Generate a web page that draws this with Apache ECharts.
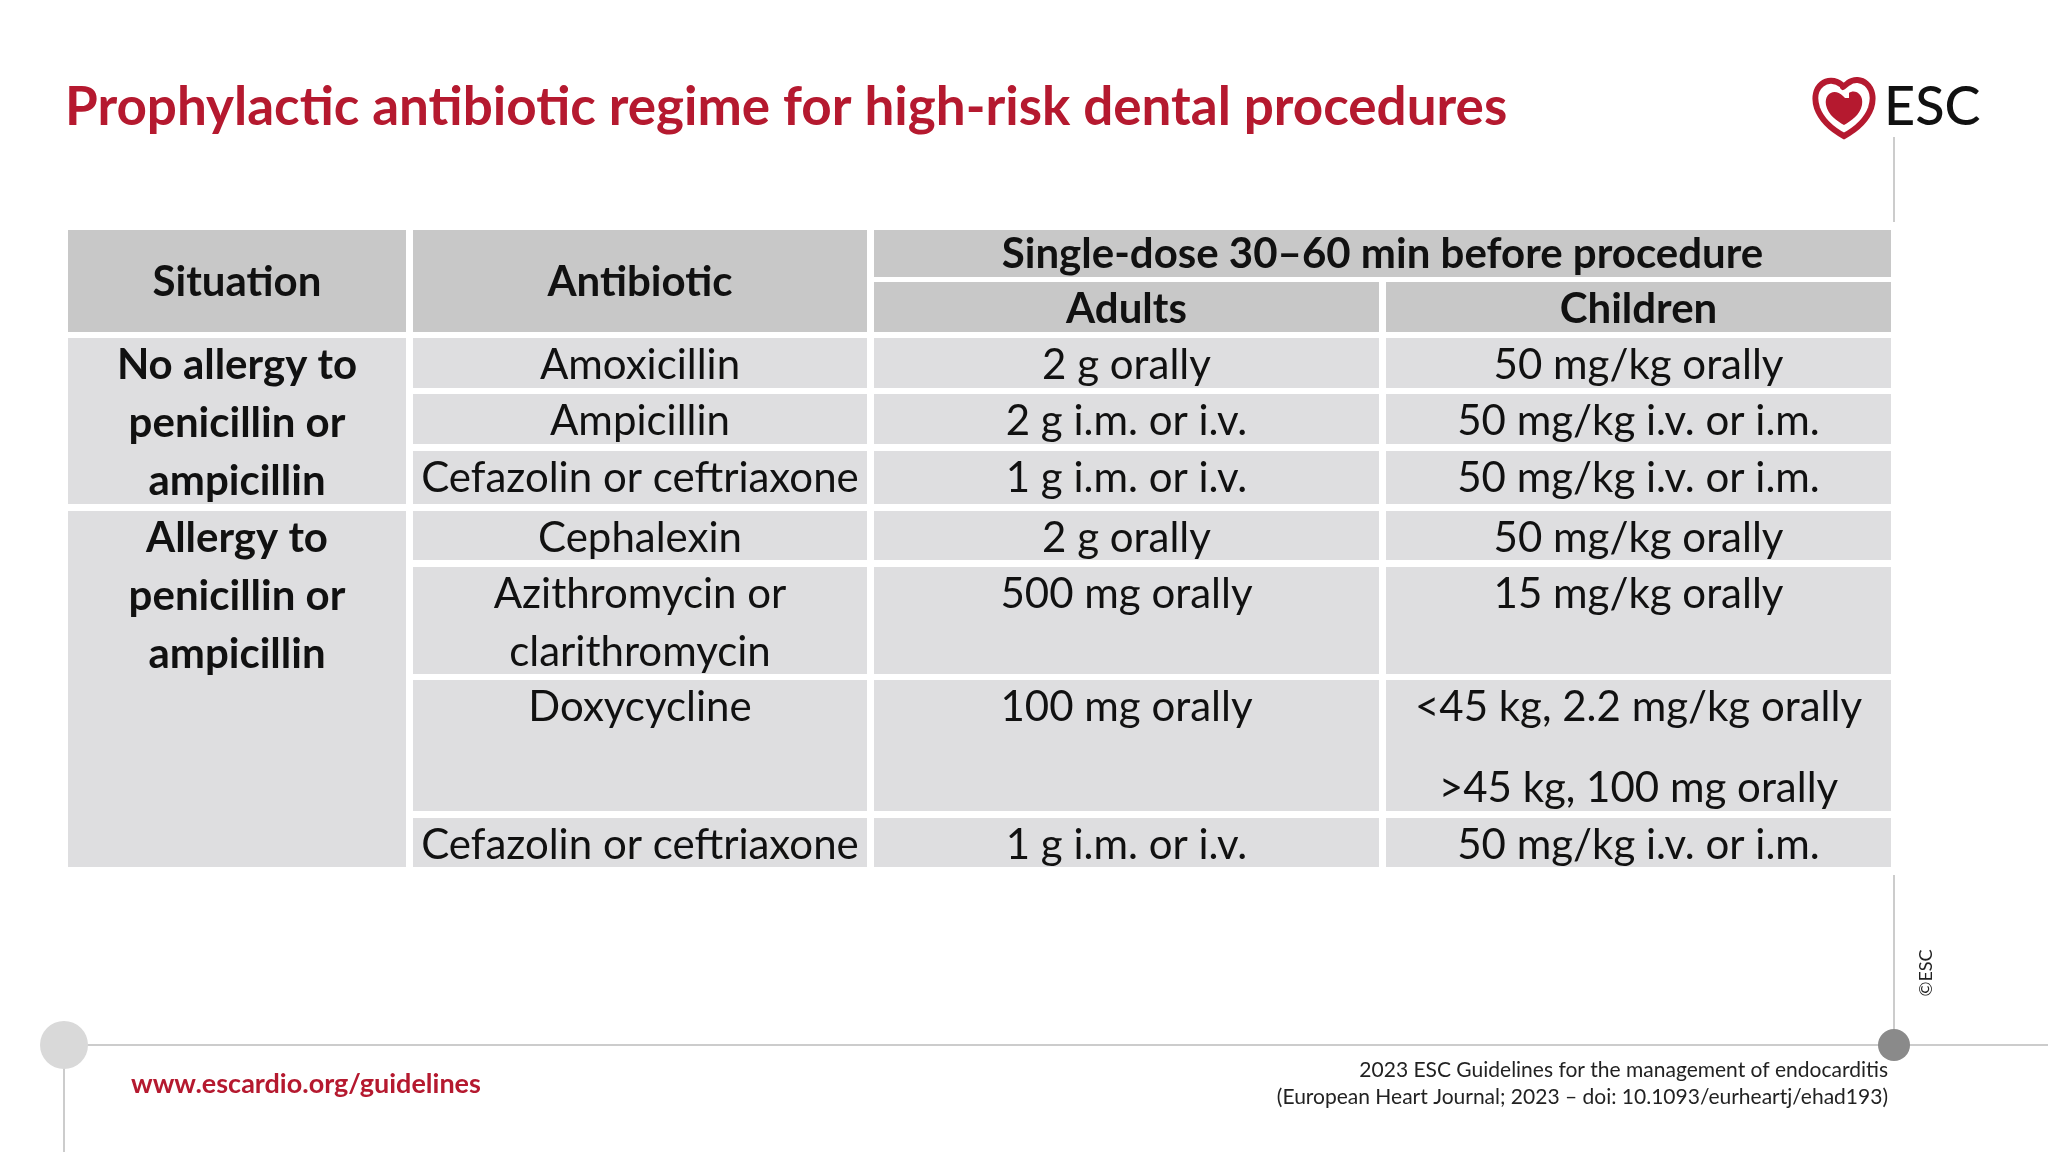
<!DOCTYPE html>
<html><head><meta charset="utf-8">
<script src="https://cdn.jsdelivr.net/npm/echarts@6/dist/echarts.min.js"></script>
<style>html,body{margin:0;padding:0;background:#fff}#c{width:2048px;height:1152px}</style>
</head><body><div id="c"></div>
<script>
const title = 'Prophylactic antibiotic regime for high-risk dental procedures';
const headers = ['Situation', 'Antibiotic', 'Single-dose 30–60 min before procedure', 'Adults', 'Children'];
const situations = [['No allergy to', 'penicillin or', 'ampicillin'], ['Allergy to', 'penicillin or', 'ampicillin']];
const situationRows = [[0, 2], [3, 6]];
const antibiotics = [['Amoxicillin'], ['Ampicillin'], ['Cefazolin or ceftriaxone'], ['Cephalexin'], ['Azithromycin or', 'clarithromycin'], ['Doxycycline'], ['Cefazolin or ceftriaxone']];
const adults = [['2 g orally'], ['2 g i.m. or i.v.'], ['1 g i.m. or i.v.'], ['2 g orally'], ['500 mg orally'], ['100 mg orally'], ['1 g i.m. or i.v.']];
const children = [['50 mg/kg orally'], ['50 mg/kg i.v. or i.m.'], ['50 mg/kg i.v. or i.m.'], ['50 mg/kg orally'], ['15 mg/kg orally'], ['<45 kg, 2.2 mg/kg orally', '>45 kg, 100 mg orally'], ['50 mg/kg i.v. or i.m.']];
const footerUrl = 'www.escardio.org/guidelines';
const citation = ['2023 ESC Guidelines for the management of endocarditis', '(European Heart Journal; 2023 – doi: 10.1093/eurheartj/ehad193)'];

const colX = [[68, 406], [413, 867], [874, 1379], [1386, 1891]];
const rowY = [[338, 388], [394, 444], [451, 504], [511, 560], [567, 674], [680, 811], [818, 867]];
const F = 'Lato, "Open Sans", sans-serif';
const RED = '#b5192f', HEAD = '#c8c8c8', BODY = '#dedee0';
const g = [];
function rect(x0, y0, x1, y1, fill) { g.push({type:'rect', shape:{x:x0, y:y0, width:x1-x0, height:y1-y0}, style:{fill}}); }
function txt(lines, cx, y, opts) {
  opts = opts || {};
  const lh = opts.lh || 58;
  lines.forEach((t, i) => {
    g.push({type:'text', x:cx, y:y + i * lh, style:{text:t, fill:'#111', font:(opts.bold?'bold ':'')+(opts.size||42)+'px '+F, align:'center', verticalAlign:'middle'}});
  });
}
rect(colX[0][0], 230, colX[0][1], 332, HEAD);
rect(colX[1][0], 230, colX[1][1], 332, HEAD);
rect(colX[2][0], 230, colX[3][1], 277, HEAD);
rect(colX[2][0], 282, colX[2][1], 332, HEAD);
rect(colX[3][0], 282, colX[3][1], 332, HEAD);
txt([headers[0]], (colX[0][0]+colX[0][1])/2, 282, {bold:true});
txt([headers[1]], (colX[1][0]+colX[1][1])/2, 282, {bold:true});
txt([headers[2]], (colX[2][0]+colX[3][1])/2, 254, {bold:true});
txt([headers[3]], (colX[2][0]+colX[2][1])/2, 309, {bold:true});
txt([headers[4]], (colX[3][0]+colX[3][1])/2, 309, {bold:true});
situationRows.forEach((r, i) => {
  const y0 = rowY[r[0]][0], y1 = rowY[r[1]][1];
  rect(colX[0][0], y0, colX[0][1], y1, BODY);
  txt(situations[i], (colX[0][0]+colX[0][1])/2, y0 + 27, {bold:true});
});
[antibiotics, adults, children].forEach((col, ci) => {
  const c = colX[ci+1];
  col.forEach((lines, ri) => {
    rect(c[0], rowY[ri][0], c[1], rowY[ri][1], BODY);
    txt(lines, (c[0]+c[1])/2, rowY[ri][0] + 27, {lh: lines.length === 2 && ci === 2 ? 81 : 58});
  });
});
g.push({type:'text', x:65, y:108, style:{text:title, fill:RED, font:'bold 53px '+F, verticalAlign:'middle'}});
const heart = '<svg xmlns="http://www.w3.org/2000/svg" width="64" height="64" viewBox="0 0 64 64">' +
  '<path d="M30 9 C16 -2 -2 10 5 32 C10 46 21 54 32 60 C43 54 54 46 59 32 C66 10 48 -2 36 7 L31 11" fill="none" stroke="' + RED + '" stroke-width="6" stroke-linecap="round"/>' +
  '<path d="M31 20 C23 12 12 17 14 29 C16 39 25 45 32 49 C39 45 48 39 50 29 C52 17 42 13 37 17 L37 22 L33 22 Z" fill="' + RED + '"/></svg>';
g.push({type:'image', x:1812, y:76, style:{image:'data:image/svg+xml;charset=utf-8,' + encodeURIComponent(heart), width:64, height:64}});
g.push({type:'text', x:1884, y:108, style:{text:'ESC', fill:'#111', font:'500 54px '+F, verticalAlign:'middle'}});
g.push({type:'line', shape:{x1:1894, y1:137, x2:1894, y2:222}, style:{stroke:'#cccccc', lineWidth:2}});
g.push({type:'line', shape:{x1:1894, y1:875, x2:1894, y2:1032}, style:{stroke:'#cccccc', lineWidth:2}});
g.push({type:'line', shape:{x1:64, y1:1045, x2:2048, y2:1045}, style:{stroke:'#cccccc', lineWidth:2}});
g.push({type:'line', shape:{x1:64, y1:1045, x2:64, y2:1152}, style:{stroke:'#cccccc', lineWidth:2}});
g.push({type:'circle', shape:{cx:64, cy:1045, r:24}, style:{fill:'#d9d9d9'}});
g.push({type:'circle', shape:{cx:1894, cy:1045, r:16}, style:{fill:'#8a8a8a'}});
g.push({type:'text', x:1926, y:973, rotation:Math.PI/2, style:{text:'©ESC', fill:'#222', font:'18px '+F, align:'center', verticalAlign:'middle'}});
g.push({type:'text', x:131, y:1084, style:{text:footerUrl, fill:RED, font:'bold 27px '+F, verticalAlign:'middle'}});
citation.forEach((t, i) => g.push({type:'text', x:1888, y:1070 + i*27, style:{text:t, fill:'#222', font:'21px '+F, align:'right', verticalAlign:'middle'}}));

const chart = echarts.init(document.getElementById('c'));
chart.setOption({backgroundColor:'#fff', graphic:{elements:g}});
</script></body></html>
